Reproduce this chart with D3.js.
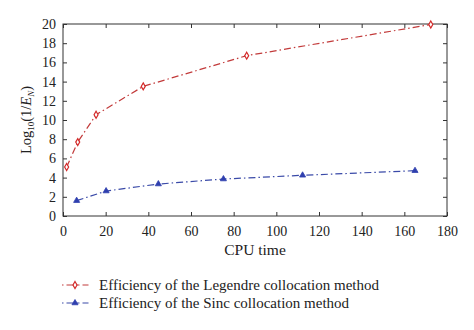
<!DOCTYPE html>
<html>
<head>
<meta charset="utf-8">
<script src="https://cdn.jsdelivr.net/npm/d3@7"></script>
<style>
  body { margin: 0; background: #fff; }
  svg text { font-family: "Liberation Serif", "DejaVu Serif", serif; fill: #222; }
</style>
</head>
<body>
<script>
// values
var legendreTime = [1.7, 6.9, 15.5, 37.6, 86.1, 172.4],
    legendreEff  = [5.1, 7.7, 10.55, 13.5, 16.7, 19.95];
var sincTime = [6.4, 20.2, 44.7, 75.2, 112.3, 165],
    sincEff  = [1.6, 2.6, 3.33, 3.85, 4.24, 4.72];
var xTicks = [0, 20, 40, 60, 80, 100, 120, 140, 160, 180],
    yTicks = [0, 2, 4, 6, 8, 10, 12, 14, 16, 18, 20];
var seriesNames = ["Efficiency of the Legendre collocation method",
                   "Efficiency of the Sinc collocation method"];

// note: "top" is taken by window.top, so plot edges get their own names
var width = 474, height = 330,
    plotL = 63, plotR = 447, plotT = 24, plotB = 216;

var x = d3.scaleLinear().domain([0, 180]).range([plotL, plotR]);
var y = d3.scaleLinear().domain([0, 20]).range([plotB, plotT]);

var svg = d3.select("body").append("svg")
    .attr("width", width)
    .attr("height", height);

// frame
svg.append("rect")
    .attr("x", plotL).attr("y", plotT)
    .attr("width", plotR - plotL).attr("height", plotB - plotT)
    .attr("fill", "none").attr("stroke", "#333").attr("stroke-width", 1);

// axes with inward ticks on all sides
function styleAxis(g) {
  g.select(".domain").remove();
  g.selectAll(".tick line").attr("stroke", "#333");
  g.selectAll(".tick text").attr("font-size", 14).attr("fill", "#222")
    .attr("font-family", "Liberation Serif, serif");
}
svg.append("g").attr("transform", "translate(0," + plotB + ")")
    .call(d3.axisBottom(x).tickValues(xTicks).tickSize(-4).tickPadding(10))
    .call(styleAxis);
svg.append("g").attr("transform", "translate(0," + plotT + ")")
    .call(d3.axisTop(x).tickValues(xTicks).tickSize(-4).tickFormat(""))
    .call(styleAxis);
svg.append("g").attr("transform", "translate(" + plotL + ",0)")
    .call(d3.axisLeft(y).tickValues(yTicks).tickSize(-4).tickPadding(7))
    .call(styleAxis);
svg.append("g").attr("transform", "translate(" + plotR + ",0)")
    .call(d3.axisRight(y).tickValues(yTicks).tickSize(-4).tickFormat(""))
    .call(styleAxis);

// axis titles
svg.append("text")
    .attr("x", (plotL + plotR) / 2).attr("y", 255)
    .attr("text-anchor", "middle").attr("font-size", 15.5)
    .text("CPU time");

var yl = svg.append("text")
    .attr("transform", "translate(31," + ((plotT + plotB) / 2) + ") rotate(-90)")
    .attr("text-anchor", "middle").attr("font-size", 14.5);
yl.append("tspan").text("Log");
yl.append("tspan").attr("font-size", 9).attr("dy", 3).text("10");
yl.append("tspan").attr("dy", -3).text("(1/");
yl.append("tspan").attr("font-style", "italic").text("E");
yl.append("tspan").attr("font-size", 9).attr("font-style", "italic").attr("dy", 3).text("N");
yl.append("tspan").attr("dy", -3).text(")");

var dash = "7,3,1.5,3";
var line = d3.line().x(function(d) { return x(d[0]); }).y(function(d) { return y(d[1]); });

var series = [
  { name: seriesNames[0], color: "#d42a2a", lineColor: "#c23a3a", marker: "diamond",
    pts: d3.zip(legendreTime, legendreEff) },
  { name: seriesNames[1], color: "#2f3fae", lineColor: "#3a4aa8", marker: "triangle",
    pts: d3.zip(sincTime, sincEff) }
];

function marker(g, s, cx, cy) {
  if (s.marker === "diamond") {
    g.append("path")
      .attr("d", d3.symbol(d3.symbolDiamond, 14)())
      .attr("transform", "translate(" + cx + "," + cy + ")")
      .attr("fill", "#fff").attr("stroke", s.color).attr("stroke-width", 1.2);
  } else {
    g.append("path")
      .attr("d", d3.symbol(d3.symbolTriangle, 16)())
      .attr("transform", "translate(" + cx + "," + cy + ")")
      .attr("fill", s.color).attr("stroke", s.color).attr("stroke-width", 0.8);
  }
}

series.forEach(function(s) {
  svg.append("path")
    .attr("d", line(s.pts))
    .attr("fill", "none")
    .attr("stroke", s.lineColor)
    .attr("stroke-width", 1.2)
    .attr("stroke-dasharray", dash);
  var g = svg.append("g");
  s.pts.forEach(function(p) { marker(g, s, x(p[0]), y(p[1])); });
});

// legend
series.forEach(function(s, i) {
  var ly = 285 + i * 18;
  svg.append("line")
    .attr("x1", 62).attr("x2", 89).attr("y1", ly).attr("y2", ly)
    .attr("stroke", s.lineColor).attr("stroke-width", 1.2)
    .attr("stroke-dasharray", "1.5,3,13,3,6,20");
  marker(svg, s, 75, ly);
  svg.append("text")
    .attr("x", 99).attr("y", ly + 5)
    .attr("font-size", 15)
    .text(s.name);
});
</script>
</body>
</html>
